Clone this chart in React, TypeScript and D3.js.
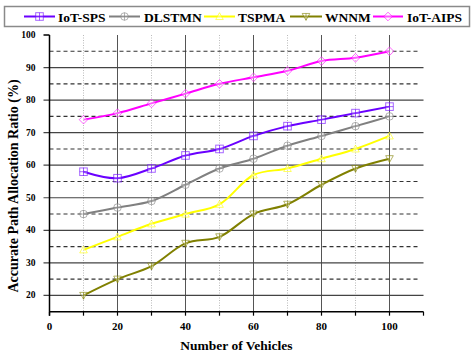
import React from "react";
import * as d3 from "d3";

const xValues = [10, 20, 30, 40, 50, 60, 70, 80, 90, 100];
const iotSps = [58, 56, 59, 63, 65, 69, 72, 74, 76, 78];
const dlstmn = [45, 47, 49, 54, 59, 62, 66, 69, 72, 75];
const tspma = [34, 38, 42, 45, 48, 57, 59, 62, 65, 69];
const wnnm = [20, 25, 29, 36, 38, 45, 48, 54, 59, 62];
const iotAips = [74, 76, 79, 82, 85, 87, 89, 92, 93, 95];
const seriesNames = ["IoT-SPS", "DLSTMN", "TSPMA", "WNNM", "IoT-AIPS"];
const xTicks = [0, 20, 40, 60, 80, 100];
const yTicks = [20, 30, 40, 50, 60, 70, 80, 90, 100];

const W = 474;
const H = 358;
const FONT = "'Liberation Serif', 'Times New Roman', serif";

const series = [
  { name: seriesNames[0], values: iotSps, color: "#6a00ff", marker: "squareCross" },
  { name: seriesNames[1], values: dlstmn, color: "#808080", marker: "circleCross" },
  { name: seriesNames[2], values: tspma, color: "#ffff00", marker: "triangle" },
  { name: seriesNames[3], values: wnnm, color: "#808000", marker: "downTriangle" },
  { name: seriesNames[4], values: iotAips, color: "#ff00ff", marker: "diamond" },
];

const legendPos = [
  { x1: 24, x2: 55, tx: 58 },
  { x1: 109, x2: 140, tx: 144 },
  { x1: 204, x2: 235, tx: 238 },
  { x1: 290, x2: 322, tx: 325 },
  { x1: 373, x2: 403, tx: 407 },
];

function Marker({ type, x, y, color }: { type: string; x: number; y: number; color: string }) {
  const r = 3.8;
  const common = { fill: "rgba(255,255,255,0.35)", stroke: color, strokeWidth: 1, strokeOpacity: 0.6 };
  if (type === "squareCross") {
    return (
      <g>
        <rect x={x - r} y={y - r} width={2 * r} height={2 * r} {...common} />
        <path d={`M${x - r},${y}H${x + r}M${x},${y - r}V${y + r}`} stroke={color} strokeOpacity={0.6} strokeWidth={1} />
      </g>
    );
  }
  if (type === "circleCross") {
    return (
      <g>
        <circle cx={x} cy={y} r={r} {...common} />
        <path d={`M${x - r},${y}H${x + r}M${x},${y - r}V${y + r}`} stroke={color} strokeOpacity={0.6} strokeWidth={1} />
      </g>
    );
  }
  if (type === "triangle") {
    return <path d={`M${x},${y - r}L${x + r},${y + r * 0.8}L${x - r},${y + r * 0.8}Z`} {...common} />;
  }
  if (type === "downTriangle") {
    return (
      <g>
        <path d={`M${x},${y + r}L${x + r},${y - r * 0.8}L${x - r},${y - r * 0.8}Z`} {...common} />
        <path d={`M${x},${y - r * 0.8}V${y + r}`} stroke={color} strokeOpacity={0.6} strokeWidth={1} />
      </g>
    );
  }
  return <path d={`M${x},${y - r - 0.5}L${x + r + 0.5},${y}L${x},${y + r + 0.5}L${x - r - 0.5},${y}Z`} {...common} />;
}

export default function App() {
  const x = d3.scaleLinear().domain([0, 110]).range([49.5, 423.5]);
  const y = d3.scaleLinear().domain([15, 100]).range([311.7, 35]);
  const line = d3
    .line<number>()
    .x((_, i) => x(xValues[i]))
    .y((d) => y(d))
    .curve(d3.curveCatmullRom.alpha(0.5));

  const xAll = d3.range(0, 111, 10);
  const dottedX = [10, 30, 50, 70, 90];
  const solidX = [20, 40, 60, 80, 100];
  const solidY = [20, 30, 40, 50, 60, 70, 80, 90];
  const dashedY = [25, 35, 45, 55, 65, 75, 85, 95];

  return (
    <svg width={W} height={H} style={{ position: "absolute", left: 0, top: 0, background: "#fff" }} fontFamily={FONT}>
      {/* legend box */}
      <rect x={4.5} y={6.5} width={465} height={20} fill="#fff" stroke="#8a8a8a" strokeWidth={1.5} />
      {series.map((s, i) => {
        const p = legendPos[i];
        return (
          <g key={s.name}>
            <line x1={p.x1} x2={p.x2} y1={16.5} y2={16.5} stroke={s.color} strokeWidth={2} />
            <Marker type={s.marker} x={(p.x1 + p.x2) / 2} y={16.5} color={s.color} />
            <text x={p.tx} y={21.5} fontSize={13.5} fontWeight="bold" fill="#000">
              {s.name}
            </text>
          </g>
        );
      })}

      {/* vertical grid */}
      {dottedX.map((v) => (
        <line key={"dx" + v} x1={x(v)} x2={x(v)} y1={y(100)} y2={y(15)} stroke="#aaa" strokeWidth={0.8} strokeDasharray="1,1.5" />
      ))}
      {solidX.map((v) => (
        <line key={"sx" + v} x1={x(v)} x2={x(v)} y1={y(100)} y2={y(15)} stroke="#555" strokeWidth={1} />
      ))}
      {/* horizontal grid */}
      {solidY.map((v) => (
        <line key={"sy" + v} x1={x(0) - 6} x2={x(110)} y1={y(v)} y2={y(v)} stroke="#444" strokeWidth={1.2} />
      ))}
      {dashedY.map((v) => (
        <line key={"dy" + v} x1={x(0)} x2={x(108.5)} y1={y(v)} y2={y(v)} stroke="#333" strokeWidth={1.1} strokeDasharray="4,3" />
      ))}

      {/* axes */}
      <line x1={x(0)} x2={x(0)} y1={y(100)} y2={y(15) + 4} stroke="#000" strokeWidth={1.5} />
      <line x1={x(0) - 6} x2={x(0)} y1={y(100)} y2={y(100)} stroke="#000" strokeWidth={1.5} />
      <line x1={x(0)} x2={x(110)} y1={y(15)} y2={y(15)} stroke="#000" strokeWidth={1.5} />
      {xAll.map((v) => (
        <line key={"xt" + v} x1={x(v)} x2={x(v)} y1={y(15)} y2={y(15) + 4} stroke="#000" strokeWidth={1.2} />
      ))}
      {xTicks.map((v) => (
        <text key={"xl" + v} x={x(v)} y={329.5} textAnchor="middle" fontSize={11} fontWeight="bold">
          {v}
        </text>
      ))}
      {yTicks.map((v) => (
        <text key={"yl" + v} x={35.5} y={y(v) + 3} textAnchor="end" fontSize={9.5} fontWeight="bold">
          {v}
        </text>
      ))}

      {/* series */}
      {series.map((s) => (
        <path key={"l" + s.name} d={line(s.values) || ""} fill="none" stroke={s.color} strokeWidth={2} />
      ))}
      {series.map((s) =>
        s.values.map((v, i) => <Marker key={s.name + i} type={s.marker} x={x(xValues[i])} y={y(v)} color={s.color} />)
      )}

      {/* axis titles */}
      <text x={236.5} y={350} textAnchor="middle" fontSize={13.5} fontWeight="bold">
        Number of Vehicles
      </text>
      <text transform="translate(17.5,186) rotate(-90)" textAnchor="middle" fontSize={14} fontWeight="bold">
        Accurate Path Allocation Ratio (%)
      </text>
    </svg>
  );
}
